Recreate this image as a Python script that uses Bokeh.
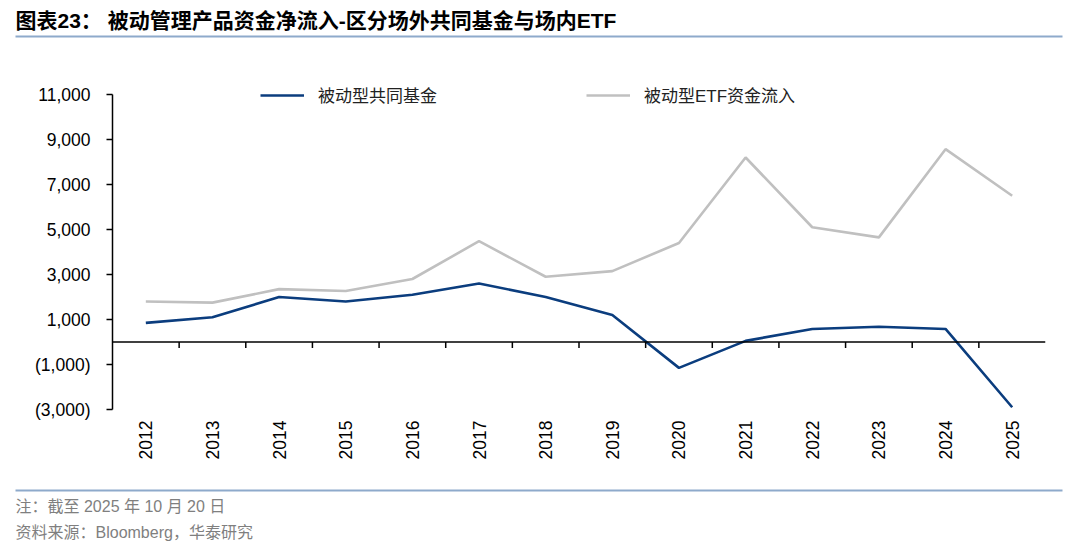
import math
from bokeh.plotting import figure
from bokeh.layouts import column
from bokeh.models import (FactorRange, Range1d, FixedTicker, CustomJSTickFormatter, Span,
                          Label, BoxAnnotation, Legend, LegendItem)
from bokeh.embed import file_html
from bokeh.resources import INLINE

# ---- data ----
years = [str(y) for y in range(2012, 2026)]
mutual = [850, 1100, 2000, 1800, 2100, 2600, 2000, 1200, -1150, 50, 580, 680, 580, -2900]
etf = [1800, 1750, 2350, 2270, 2800, 4480, 2900, 3150, 4400, 8200, 5100, 4650, 8570, 6500]
y_ticks = [-3000, -1000, 1000, 3000, 5000, 7000, 9000, 11000]
series_names = ["被动型共同基金", "被动型ETF资金流入"]
title_text = "图表23：  被动管理产品资金净流入-区分场外共同基金与场内ETF"
note_text = "注：截至 2025 年 10 月 20 日"
source_text = "资料来源：Bloomberg，华泰研究"

LAT = "Liberation Sans"
MIX = "Liberation Sans, Noto Sans CJK SC"
RULE = "#8eaacb"
W = 1072

# ---------- header figure ----------
H1 = 44
head = figure(width=W, height=H1, output_backend="svg", toolbar_location=None,
              x_range=Range1d(0, W), y_range=Range1d(H1, 0), min_border=0,
              x_axis_location=None, y_axis_location=None)
head.frame_align = False
head.outline_line_color = None
head.grid.visible = False
head.add_layout(Label(x=15, y=20, text=title_text, text_font=MIX, text_font_style="bold",
                      text_font_size="21px", text_baseline="middle", text_color="black"))
head.add_layout(BoxAnnotation(left=15, right=1062, top=37, bottom=35,
                              fill_color=RULE, fill_alpha=1, line_alpha=0))

# ---------- main chart ----------
H2 = 441          # page y 44 .. 485
Y0 = 44
F_LEFT, F_RIGHT = 112, 1045
AX_TOP, F_BOT = 94, 409       # page y of 11,000 and -3,000
F_TOP = 80                    # frame top (room for legend)
ymin, ymax = y_ticks[0], y_ticks[-1]
ppu = (F_BOT - AX_TOP) / (ymax - ymin)
y_top = ymax + (AX_TOP - F_TOP) / ppu

p = figure(width=W, height=H2, output_backend="svg", toolbar_location=None,
           x_range=FactorRange(*years, range_padding=0, factor_padding=0),
           y_range=Range1d(ymin, y_top),
           min_border_left=F_LEFT, min_border_right=W - F_RIGHT,
           min_border_top=F_TOP - Y0, min_border_bottom=Y0 + H2 - F_BOT)
p.frame_align = False
p.outline_line_color = None
p.grid.visible = False

r1 = p.line(years, mutual, line_color="#0b3d7e", line_width=2.6)
r2 = p.line(years, etf, line_color="#c0c0c0", line_width=2.6)

# zero line and category boundary ticks on it
p.add_layout(Span(location=0, dimension="width", line_color="black", line_width=1.5))
tick_len = 6 / ppu
bounds = list(range(1, len(years)))
p.segment(x0=bounds, y0=[0] * len(bounds), x1=bounds, y1=[-tick_len] * len(bounds),
          line_color="black", line_width=1.5)

# y axis
ya = p.yaxis[0]
ya.ticker = FixedTicker(ticks=y_ticks)
ya.bounds = (ymin, ymax)
ya.formatter = CustomJSTickFormatter(code="""
const s = Math.abs(tick).toLocaleString('en-US');
return tick < 0 ? '(' + s + ')' : s;
""")
ya.major_label_text_font = LAT
ya.major_label_text_font_size = "17.5px"
ya.major_label_text_color = "black"
ya.major_tick_out = 6
ya.major_tick_in = 0
ya.minor_tick_out = 0
ya.minor_tick_in = 0
ya.axis_line_width = 1.5
ya.axis_line_color = "black"
ya.major_tick_line_width = 1.5
ya.major_tick_line_color = "black"
ya.major_label_standoff = 16

# x axis
xa = p.xaxis[0]
xa.axis_line_color = None
xa.major_tick_out = 0
xa.major_tick_in = 0
xa.minor_tick_out = 0
xa.major_label_orientation = math.pi / 2
xa.major_label_standoff = 11
xa.major_label_text_font = LAT
xa.major_label_text_font_size = "17.5px"
xa.major_label_text_color = "black"

# legend (location relative to frame bottom-left)
legend = Legend(items=[LegendItem(label=series_names[0], renderers=[r1]),
                       LegendItem(label=series_names[1], renderers=[r2])],
                orientation="horizontal", location=(260 - F_LEFT, F_BOT - 107),
                glyph_width=44, glyph_height=20, label_standoff=14, label_width=268,
                label_height=20, spacing=0, padding=0, margin=0,
                border_line_alpha=0, background_fill_alpha=0,
                label_text_font=MIX, label_text_font_size="17px", label_text_color="#222222")
p.add_layout(legend)

# ---------- footer figure ----------
H3 = 56           # page y 485 .. 541
foot = figure(width=W, height=H3, output_backend="svg", toolbar_location=None,
              x_range=Range1d(0, W), y_range=Range1d(H3, 0), min_border=0,
              x_axis_location=None, y_axis_location=None)
foot.frame_align = False
foot.outline_line_color = None
foot.grid.visible = False
foot.add_layout(BoxAnnotation(left=15, right=1062, top=6, bottom=4,
                              fill_color=RULE, fill_alpha=1, line_alpha=0))
foot.add_layout(Label(x=15, y=21, text=note_text, text_font=MIX, text_font_size="16px",
                      text_baseline="middle", text_color="#7f7f7f"))
foot.add_layout(Label(x=15, y=47, text=source_text, text_font=MIX, text_font_size="16px",
                      text_baseline="middle", text_color="#7f7f7f"))

layout = column(head, p, foot, spacing=0)
open("out.html", "w").write(file_html(layout, INLINE))
